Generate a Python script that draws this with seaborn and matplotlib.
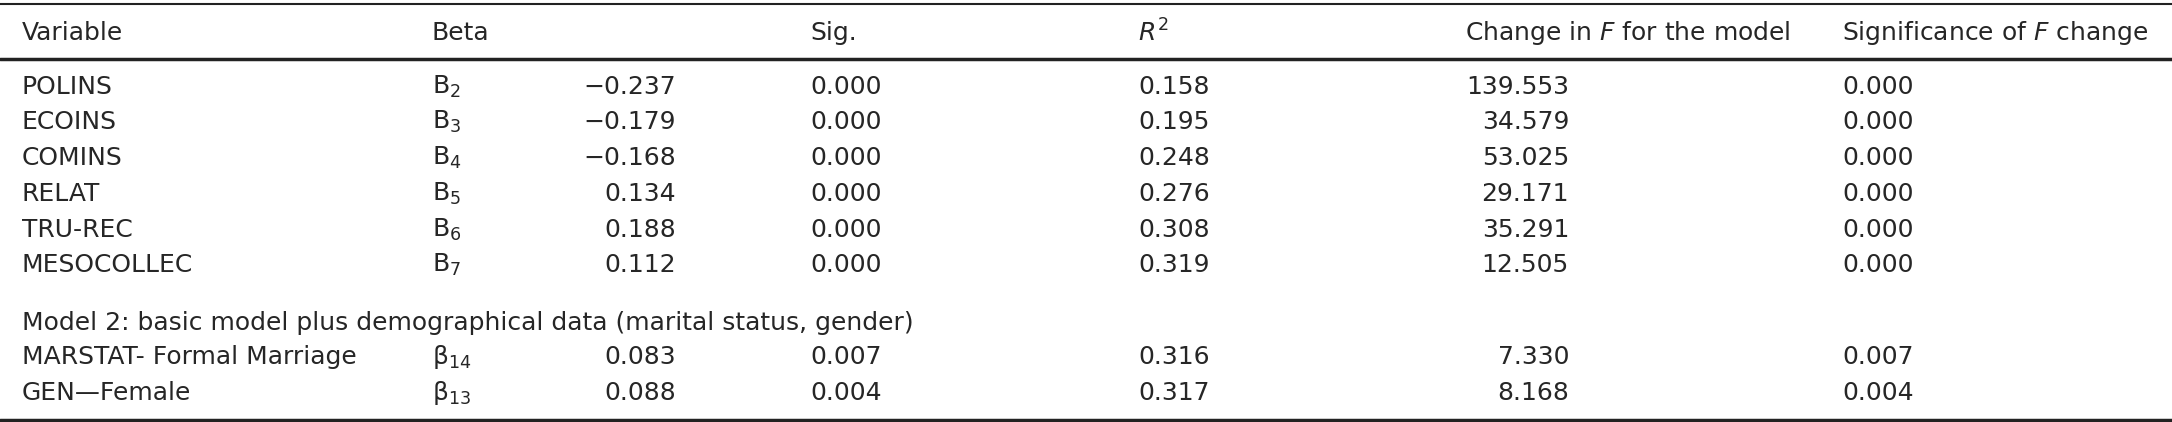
import matplotlib
matplotlib.use('Agg')
import matplotlib.pyplot as plt
import seaborn as sns

sns.set_theme(style='white')
plt.rcParams['font.family'] = ['Liberation Sans Narrow', 'DejaVu Sans']
plt.rcParams['mathtext.fontset'] = 'custom'
plt.rcParams['mathtext.rm'] = 'Liberation Sans Narrow'
plt.rcParams['mathtext.it'] = 'Liberation Sans Narrow:italic'

headers = ['Variable', 'Beta', 'Sig.', '$R^2$', 'Change in $F$ for the model', 'Significance of $F$ change']
variables = ['POLINS', 'ECOINS', 'COMINS', 'RELAT', 'TRU-REC', 'MESOCOLLEC',
             'MARSTAT- Formal Marriage', 'GEN\u2014Female']
coef_names = ['B$_2$', 'B$_3$', 'B$_4$', 'B$_5$', 'B$_6$', 'B$_7$', '\u03b2$_{14}$', '\u03b2$_{13}$']
beta = ['\u22120.237', '\u22120.179', '\u22120.168', '0.134', '0.188', '0.112', '0.083', '0.088']
sig = ['0.000', '0.000', '0.000', '0.000', '0.000', '0.000', '0.007', '0.004']
r2 = ['0.158', '0.195', '0.248', '0.276', '0.308', '0.319', '0.316', '0.317']
f_change = ['139.553', '34.579', '53.025', '29.171', '35.291', '12.505', '7.330', '8.168']
sig_f = ['0.000', '0.000', '0.000', '0.000', '0.000', '0.000', '0.007', '0.004']
model2_note = 'Model 2: basic model plus demographical data (marital status, gender)'

W, H = 2172, 422
fig = plt.figure(figsize=(W / 100, H / 100), dpi=100)
ax = fig.add_axes([0, 0, 1, 1])
ax.set_xlim(0, W)
ax.set_ylim(H, 0)
ax.axis('off')

fs = 18
row_y = [87, 122, 158, 194, 230, 265, 357, 393]

# header
hx = [22, 432, 810, 1138, 1465, 1842]
for x, h in zip(hx, headers):
    ax.text(x, 33, h, fontsize=fs, va='center', ha='left')

ax.axhline(4, color='#222', lw=1.5)
ax.axhline(59, color='#222', lw=2.5)
ax.axhline(420, color='#222', lw=2.5)

for i, y in enumerate(row_y):
    ax.text(22, y, variables[i], fontsize=fs, va='center')
    ax.text(432, y, coef_names[i], fontsize=fs, va='center')
    ax.text(676, y, beta[i], fontsize=fs, va='center', ha='right')
    ax.text(810, y, sig[i], fontsize=fs, va='center')
    ax.text(1138, y, r2[i], fontsize=fs, va='center')
    ax.text(1569, y, f_change[i], fontsize=fs, va='center', ha='right')
    ax.text(1842, y, sig_f[i], fontsize=fs, va='center')

ax.text(22, 323, model2_note, fontsize=fs, va='center')

fig.savefig('out.png', dpi=100)
